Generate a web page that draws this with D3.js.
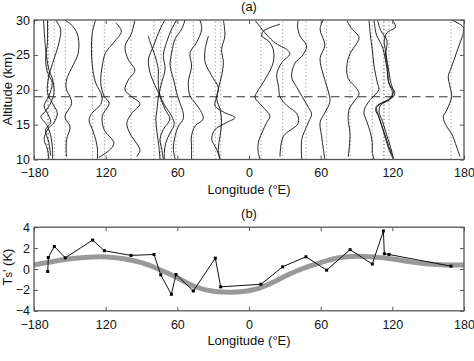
<!DOCTYPE html>
<html><head><meta charset="utf-8">
<script src="https://cdn.jsdelivr.net/npm/d3@7"></script>
<style>
body{margin:0;background:#fff}
svg{display:block}
text{font-family:"Liberation Sans",Arial,Helvetica,sans-serif;fill:#111}
</style>
</head><body>
<svg id="c" width="474" height="361"></svg>
<script>
// ---- data ----
const stationLon = [-168.5,-168,-163,-153.8,-130.9,-121.1,-98.8,-79.5,-73.9,-65,-61.1,-46.6,-28.2,-23.7,10,28.2,47.7,65,84.6,103.2,112.5,113.3,117.2,169.1];
const stationTs  = [-0.24,1.1,2.16,1.07,2.77,1.75,1.3,1.39,-0.56,-2.42,-0.53,-2.1,1.04,-1.71,-1.46,0.21,1.17,-0.11,1.85,0.47,3.64,1.46,1.39,0.27];

const fitLon = [-180,-165,-150,-135,-120,-105,-90,-75,-60,-45,-30,-15,0,15,30,45,60,75,90,105,120,135,150,165,180];
const fitTs  = [0.4,0.7,0.98,1.13,1.15,0.98,0.6,-0.05,-0.85,-1.7,-2.12,-2.22,-2.08,-1.55,-0.7,0.05,0.62,1.08,1.22,1.15,0.95,0.68,0.47,0.38,0.38];

// temperature perturbation profiles [altitude km, T' K], one per station
const profiles = [
 [[30,-1.4],[25.8,-0.7],[22.9,0.4],[21.5,1.6],[19.6,2.1],[18.1,1],[16.7,-1.2],[16.2,-2.3],[14.8,-0.1],[13.4,1],[11.5,1.6],[10,1.6]],
 [[30,-0.3],[26.8,-0.3],[24.4,-0.9],[22.5,-0.3],[21,1.3],[19.1,0.2],[17.7,-1.4],[16.2,0.2],[15.3,0.8],[14.3,-0.9],[12.4,0.2],[10.5,0.8]],
 [[30,0.4],[28.7,2.1],[26.8,1.6],[24.4,-0.1],[22,-1.8],[19.6,-2.3],[18.1,-0.7],[16.7,1],[15.3,-0.1],[14.3,-2.3],[12.9,-3.4],[11.5,-2.3],[10,-1.8]],
 [[30,-0.1],[29,2.7],[27.6,4.3],[25.2,4.3],[23.6,2.7],[21.4,0.4],[20,0.4],[19,1.6],[18,2.1],[16.1,-0.1],[14.7,1.6],[12.8,0.4],[10.4,0.4]],
 [[30,1],[28.2,-0.1],[25.8,-0.4],[23.4,-0.1],[21,1],[19.1,3.1],[17.9,2.7],[16.7,-0.1],[15.7,-1.2],[14.3,-0.1],[12.9,1],[11.5,1.6],[10,1.6]],
 [[29.6,3.8],[28.4,5.7],[26.8,3.2],[25.3,0.4],[23.4,-0.7],[21,-1.2],[19.1,-0.1],[18.1,1.6],[16.2,-0.7],[14.3,-0.1],[12.4,3.2],[11.5,2.1],[10.3,-1.8]],
 [[30,1.3],[28.1,0.2],[26.2,-2],[24.3,-0.9],[22.8,1.3],[21.4,-0.9],[20,-2],[19,0.2],[18,3],[16.6,0.2],[15.2,-1.4],[13.7,-0.3],[12.3,1.9],[11.3,3],[10.4,1.9]],
 [[27.7,-1.9],[26.8,-1.3],[24.9,0.3],[23,1.4],[21.1,1.4],[19.1,2],[17.2,3.7],[15.8,5.3],[14.3,3.1],[12.9,2],[11.5,2.6],[10,3.1]],
 [[30,1.4],[28.7,-0.2],[26.3,-2.4],[24.4,-4.1],[22.5,-3.6],[20.6,-1.9],[19.1,-0.2],[17.7,1.4],[16.2,3.7],[15,4.5],[13.8,3.1],[12.4,1.7],[11,1.2],[10,1.2]],
 [[30,1.8],[28.7,0.1],[26.8,-1.6],[24.9,-2.7],[23,-2.1],[21.1,-3.2],[19.1,-4.3],[17.2,-4.8],[15.8,-5.2],[13.9,-4.8],[12,-4.2],[10,-3.8]],
 [[30,3],[28.7,1.9],[27.3,-0.3],[25.4,-1.4],[23.5,-2],[21.6,-0.9],[19.6,0.2],[18.1,1.3],[16.7,2.4],[15.8,2.4],[14.8,0.8],[13.4,-0.3],[11.5,-0.9],[10,-0.3]],
 [[30,2.2],[28.7,2.8],[26.8,1.1],[25.3,-1.1],[23.4,-0.6],[21,-1.7],[19.1,-1.1],[18.1,0.6],[16.7,2.8],[15.8,3.3],[14.8,0.6],[13.4,-0.6],[11.5,-0.6],[10,-0.6]],
 [[27.7,-2.3],[25.8,-3.4],[23.9,-3.4],[22,-1.2],[20.3,1],[18.9,0.4],[17.7,-0.1],[16.7,3.2],[16,6.6],[15.3,3.8],[14.3,-0.1],[12.9,-1.2],[11.5,0.4],[10,1.6]],
 [[30,0.9],[27.7,1.4],[25.8,0.3],[23.9,0.9],[22,0.3],[20.1,-0.8],[18.6,-1.3],[17.2,-0.2],[15.3,0.3],[13.4,-0.2],[11.5,-0.8],[10,-0.2]],
 [[29.4,6.4],[28.4,0.8],[27.7,0.3],[27,2.5],[25.8,4.1],[23.9,4.1],[21.5,1.4],[19.6,-1.4],[18.9,-2],[17.7,0.3],[16.2,3],[15.3,1.9],[13.8,0.3],[12.4,-0.9],[11,-0.9],[10,-0.3]],
 [[29.9,-9.2],[26.9,-3.1],[25.6,1.9],[25.1,2.4],[23.9,-0.3],[22.2,-2],[20.5,-1.4],[19,-0.9],[17.7,1.5],[16.6,4.7],[15.2,5.2],[13.3,0.2],[10.4,-0.9]],
 [[30,-2.6],[29,-2.8],[27.7,-2],[26.3,0.2],[25,-1],[23.8,-3.7],[21.8,-4.8],[20.3,-3],[19.1,-1.4],[17.5,0.8],[16.5,1.9],[15.5,1],[14.7,0.2],[12.9,-1.4],[10,-1.4]],
 [[30,-1.1],[28.7,-2.2],[26.4,-0.6],[24.5,-2.2],[22.1,-1.1],[19.7,0.6],[18.3,1.1],[16.7,-0.6],[15.3,-2.2],[13.4,-1.7],[11.5,-1.1],[10,-0.6]],
 [[29.9,-1.1],[28.8,0.5],[27.5,3],[26.5,2],[25.2,0],[23.3,-1.1],[21.6,-0.6],[20.2,2.2],[19.4,3],[18.4,1.5],[17.2,-0.3],[15.6,-0.6],[13.7,0],[10.4,-0.6]],
 [[30,-1.1],[27.7,-0.6],[25.8,0],[23.4,0.6],[21,1.7],[20,2.2],[18.6,-0.6],[17.6,-2.2],[16.7,-2.8],[15.3,-1.7],[13.8,-0.6],[12.4,0],[11,0],[10,0.6]],
 [[30,-3.1],[28,-2.4],[26,-0.2],[24.5,0.6],[23,1.2],[21,1.8],[19.6,3.8],[19,3.3],[18.3,0.6],[17.6,-2.4],[16.5,-1.8],[15,-0.7],[13.5,0.6],[12,1.7],[10.3,3.3]],
 [[30,-2.3],[28.5,-1.2],[27,0.9],[25,0.4],[23.5,1],[21,1.5],[19.6,2.7],[18.8,2],[18,-1.2],[17.2,-2.9],[16,-1.7],[14.5,-0.6],[13,0.4],[11.5,1.5],[10.3,2.7]],
 [[30,1.1],[29,2.2],[28.2,-0.6],[27,-1.6],[25.5,-1.1],[24,-0.6],[22.5,0],[21,0.6],[19.6,1.5],[18.6,0.2],[17.8,-2.8],[16.8,-3.3],[15.5,-2.2],[14,-1.1],[12.5,0],[11,1],[10,1.5]],
 [[30,0.2],[29,4.1],[28.1,4.1],[26.7,3],[23.3,0.2],[21.9,-0.9],[20.4,-0.3],[19,0.2],[17.1,-1.4],[16.1,-2.6],[14.7,-1.4],[13.7,0.2],[11.8,1.9],[10.4,3]]
];

const xTicks = [-180,-120,-60,0,60,120,180];
const xTickLabels = ["\u2212180","120","60","0","60","120","180"];
const altTicks = [10,15,20,25,30];
const tsTicks = [-4,-2,0,2,4];
const tsTickLabels = ["\u22124","\u22122","0","2","4"];
const tropopauseAlt = 19;
const degPerK = 2.5;   // horizontal scaling of profiles (deg longitude per K)

// ---- layout ----
const svg = d3.select("#c");
const L = 34, R = 464;
const x = d3.scaleLinear().domain([-180,180]).range([L,R]);
const yA = d3.scaleLinear().domain([10,30]).range([159.5,20]);
const yB = d3.scaleLinear().domain([-4,4]).range([310.8,227.2]);
const frameColor = "#555";
const tickFont = 12.5;

function drawAxes(y, yT, yLabels){
  const [y0,y1] = y.range();
  const g = svg.append("g");
  g.append("g").attr("transform",`translate(0,${y0})`)
    .call(d3.axisBottom(x).tickValues(xTicks).tickFormat((d,i)=>xTickLabels[i]).tickSizeInner(-4).tickSizeOuter(0).tickPadding(9));
  g.append("g").attr("transform",`translate(0,${y1})`)
    .call(d3.axisTop(x).tickValues(xTicks).tickFormat("").tickSizeInner(-4).tickSizeOuter(0));
  g.append("g").attr("transform",`translate(${L},0)`)
    .call(d3.axisLeft(y).tickValues(yT).tickFormat((d,i)=>yLabels?yLabels[i]:d).tickSizeInner(-4).tickSizeOuter(0).tickPadding(4));
  g.append("g").attr("transform",`translate(${R},0)`)
    .call(d3.axisRight(y).tickValues(yT).tickFormat("").tickSizeInner(-4).tickSizeOuter(0));
  g.selectAll(".domain").remove();
  g.selectAll(".tick line").attr("stroke",frameColor).attr("stroke-width",1);
  g.selectAll(".tick text").attr("font-size",tickFont).attr("fill","#111")
    .style("font-family",'"Liberation Sans",Arial,sans-serif');
  g.append("rect").attr("x",L).attr("y",y1).attr("width",R-L).attr("height",y0-y1)
    .attr("fill","none").attr("stroke",frameColor).attr("stroke-width",1.3);
}

// ---- panel (a) ----
svg.append("clipPath").attr("id","clipA").append("rect")
  .attr("x",L).attr("y",yA(30)).attr("width",R-L).attr("height",yA(10)-yA(30));
const gA = svg.append("g").attr("clip-path","url(#clipA)");

gA.selectAll("line.st").data(stationLon).join("line")
  .attr("x1",d=>x(d)).attr("x2",d=>x(d)).attr("y1",yA(10)).attr("y2",yA(30))
  .attr("stroke","#777").attr("stroke-width",0.9).attr("stroke-dasharray","1,2.6");

gA.append("line").attr("x1",L).attr("x2",R).attr("y1",yA(tropopauseAlt)).attr("y2",yA(tropopauseAlt))
  .attr("stroke","#333").attr("stroke-width",1.2).attr("stroke-dasharray","8.5,5");

const pline = d3.line().curve(d3.curveCatmullRom.alpha(0.5));
gA.selectAll("path.prof").data(profiles).join("path")
  .attr("d",(p,i)=>pline(p.map(([a,t])=>[x(stationLon[i]+t*degPerK), yA(a)])))
  .attr("fill","none").attr("stroke","#1a1a1a").attr("stroke-width",0.95);

drawAxes(yA, altTicks, null);

// ---- panel (b) ----
svg.append("clipPath").attr("id","clipB").append("rect")
  .attr("x",L).attr("y",yB(4)).attr("width",R-L).attr("height",yB(-4)-yB(4));
const gB = svg.append("g").attr("clip-path","url(#clipB)");
gB.append("path")
  .attr("d", d3.line().curve(d3.curveNatural).x((d,i)=>x(fitLon[i])).y(d=>yB(d))(fitTs))
  .attr("fill","none").attr("stroke","#999").attr("stroke-width",5);
gB.append("path")
  .attr("d", d3.line().x((d,i)=>x(stationLon[i])).y(d=>yB(d))(stationTs))
  .attr("fill","none").attr("stroke","#111").attr("stroke-width",1);
gB.selectAll("rect.pt").data(stationTs).join("rect")
  .attr("x",(d,i)=>x(stationLon[i])-1.5).attr("y",d=>yB(d)-1.5)
  .attr("width",3).attr("height",3).attr("fill","#000");

drawAxes(yB, tsTicks, tsTickLabels);

// ---- labels ----
const cx = x(0);
svg.append("text").attr("x",cx).attr("y",11).attr("text-anchor","middle").attr("font-size",13).text("(a)");
svg.append("text").attr("x",cx).attr("y",218).attr("text-anchor","middle").attr("font-size",13).text("(b)");
svg.append("text").attr("x",cx).attr("y",193.5).attr("text-anchor","middle").attr("font-size",13).text("Longitude (\u00B0E)");
svg.append("text").attr("x",cx).attr("y",344.5).attr("text-anchor","middle").attr("font-size",13).text("Longitude (\u00B0E)");
svg.append("text").attr("transform","translate(12,89) rotate(-90)").attr("text-anchor","middle").attr("font-size",13).text("Altitude (km)");
const ts = svg.append("text").attr("transform","translate(12,267) rotate(-90)").attr("text-anchor","middle").attr("font-size",13);
ts.append("tspan").text("T");
ts.append("tspan").attr("font-size",11).text("s");
ts.append("tspan").text("' (K)");
</script>
</body></html>
